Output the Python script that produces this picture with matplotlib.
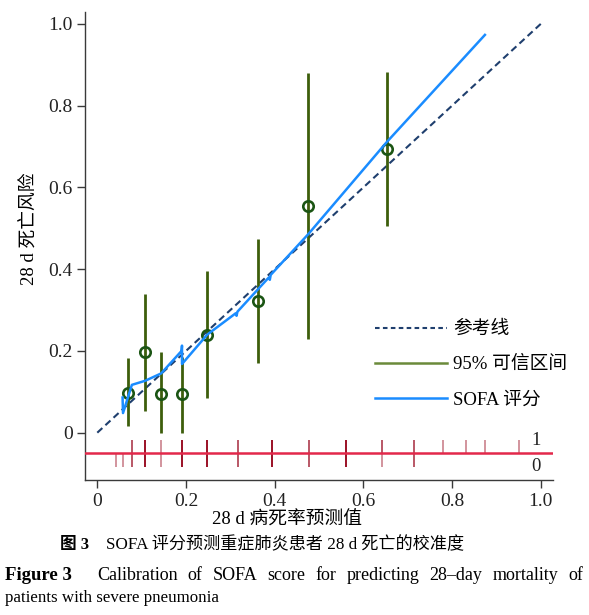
import matplotlib
matplotlib.use("Agg")
import matplotlib.pyplot as plt
from matplotlib.lines import Line2D
from matplotlib.colors import to_rgba

plt.rcParams["font.family"] = ["Liberation Serif", "Noto Sans CJK SC"]

# grouped observed risk with 95% interval
group_pred = [0.069, 0.1075, 0.144, 0.191, 0.247, 0.362, 0.475, 0.653]
group_obs = [0.098, 0.198, 0.095, 0.095, 0.240, 0.323, 0.555, 0.694]
group_lo = [0.017, 0.054, 0.0, 0.0, 0.086, 0.171, 0.230, 0.506]
group_hi = [0.183, 0.340, 0.198, 0.186, 0.396, 0.474, 0.880, 0.883]

# smoothed SOFA calibration curve
curve_pred = [0.057, 0.058, 0.078, 0.108, 0.144, 0.190, 0.191, 0.191, 0.248,
              0.312, 0.314, 0.316, 0.387, 0.389, 0.391, 0.476, 0.652, 0.874]
curve_obs = [0.086, 0.048, 0.117, 0.127, 0.145, 0.200, 0.213, 0.168, 0.240,
             0.292, 0.286, 0.296, 0.380, 0.374, 0.386, 0.486, 0.710, 0.973]

ref_line = [0, 1]

# rug of individual predictions (outcome 1 above, outcome 0 below)
rug1_pred = [0.079, 0.1075, 0.1437, 0.1918, 0.248, 0.317, 0.395, 0.477,
             0.561, 0.641, 0.714, 0.779, 0.831, 0.874, 0.950]
rug1_count = [2, 3, 1, 3, 3, 2, 3, 2, 3, 2, 2, 1, 1, 1, 1]
rug0_pred = [0.042, 0.057, 0.079, 0.1075, 0.1437, 0.1918, 0.248, 0.317,
             0.395, 0.477, 0.561, 0.641, 0.714]
rug0_count = [1, 1, 2, 3, 1, 3, 3, 2, 3, 2, 3, 1, 2]

tick_vals = [0, 0.2, 0.4, 0.6, 0.8, 1.0]
tick_labels = ["0", "0.2", "0.4", "0.6", "0.8", "1.0"]

W, H = 589, 615
fig = plt.figure(figsize=(W / 100, H / 100), dpi=100)
ax = fig.add_axes([85 / W, 1 - 480 / H, (553 - 85) / W, (480 - 12) / H])
ax.set_xlim(-0.0277, 1.0275)
ax.set_ylim(-0.1157, 1.029)

for s in ["top", "right"]:
    ax.spines[s].set_visible(False)
for s in ["left", "bottom"]:
    ax.spines[s].set_color("#3a3a3a")
    ax.spines[s].set_linewidth(1.0)
ax.set_xticks(tick_vals)
ax.set_xticklabels(tick_labels)
ax.set_yticks(tick_vals)
ax.set_yticklabels(tick_labels)
ax.tick_params(length=6, width=1.0, color="#3a3a3a", labelsize=14, pad=3,
               labelcolor="#222222")

# rug
rug_y = -0.050
rug_len = 0.033
base = "#9b1026"


def rug_colors(counts):
    return [to_rgba(base, {1: 0.45, 2: 0.7}.get(c, 1.0)) for c in counts]


ax.vlines(rug1_pred, rug_y, rug_y + rug_len, colors=rug_colors(rug1_count), lw=1.4, zorder=2)
ax.vlines(rug0_pred, rug_y - rug_len, rug_y, colors=rug_colors(rug0_count), lw=1.4, zorder=2)
ax.axhline(rug_y, color="#e3284a", lw=1.8, zorder=3)
ax.text(0.99, rug_y + 0.030, "1", fontsize=13.5, ha="center", va="center", color="#222222")
ax.text(0.99, rug_y - 0.033, "0", fontsize=13.5, ha="center", va="center", color="#222222")

# reference line
ax.plot(ref_line, ref_line, color="#1f3f6e", lw=1.5, ls=(0, (3.3, 2.0)), zorder=4)

# CI and grouped points
ci_color = "#3d5e0c"
ax.vlines(group_pred, group_lo, group_hi, colors=ci_color, lw=2.0, zorder=5)
ax.plot(group_pred, group_obs, "o", mfc="none", mec="#1b5514", ms=7.5, mew=1.9, zorder=6)

# smoothed curve
ax.plot(curve_pred, curve_obs, color="#1a8cff", lw=1.8, zorder=7)

handles = [
    Line2D([], [], color="#1f3f6e", lw=1.5, ls=(0, (2.2, 1.6))),
    Line2D([], [], color="#6b8a3a", lw=1.8),
    Line2D([], [], color="#1a8cff", lw=1.8),
]
labels = ["参考线", "95% 可信区间", "SOFA 评分"]
fig.legend(handles, labels, loc="upper left", bbox_to_anchor=(375 / W, 1 - 321 / H),
           frameon=False, fontsize=13.5, handlelength=3.85, handletextpad=0.3,
           labelspacing=0.95, borderpad=0, borderaxespad=0)

# axis titles
fig.text(287 / W, 1 - 520 / H, "28 d 病死率预测值", fontsize=13.5, ha="center", va="center")
fig.text(30 / W, 1 - 229 / H, "28 d 死亡风险", fontsize=13.5, ha="center", va="center",
         rotation=90)

# captions
fig.text(60 / W, 1 - 545 / H, "图 3", fontsize=12, fontweight="bold", ha="left", va="center")
fig.text(106 / W, 1 - 545 / H, "SOFA 评分预测重症肺炎患者 28 d 死亡的校准度", fontsize=12.3,
         ha="left", va="center")
fig.text(5 / W, 1 - 576 / H, "Figure 3", fontsize=13.5, fontweight="bold", ha="left", va="center")

line1 = "Calibration of SOFA score for predicting 28–day mortality of"
words = line1.split()
fig.canvas.draw()
renderer = fig.canvas.get_renderer()
texts = [fig.text(0, 1 - 576 / H, w, fontsize=13, ha="left", va="center") for w in words]
widths = [t.get_window_extent(renderer).width for t in texts]
x0, x1 = 97, 583
gap = (x1 - x0 - sum(widths)) / (len(words) - 1)
x = x0
for t, w in zip(texts, widths):
    t.set_x(x / W)
    x += w + gap

fig.text(5 / W, 1 - 598 / H, "patients with severe pneumonia", fontsize=12.2, ha="left",
         va="center")

fig.savefig("out.png", dpi=100)
